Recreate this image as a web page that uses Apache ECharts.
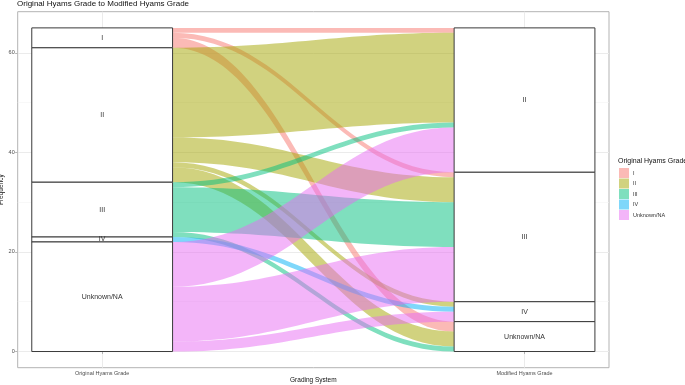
<!DOCTYPE html>
<html>
<head>
<meta charset="utf-8">
<script src="https://cdn.jsdelivr.net/npm/echarts@6/dist/echarts.min.js"></script>
<style>
  html, body { margin: 0; padding: 0; background: #fff; }
  #main { width: 685px; height: 385px; }
</style>
</head>
<body>
<div id="main"></div>
<script>
var axisNames = ['Original Hyams Grade', 'Modified Hyams Grade'];
var origGrades = ['I', 'II', 'III', 'IV', 'Unknown/NA'];
var modGrades = ['II', 'III', 'IV', 'Unknown/NA'];
var gradeColors = ['#F8766D', '#A3A500', '#00BF7D', '#00B0F6', '#E76BF3'];
// one entry per flow: original grade -> modified grade, number of cases
var flowFrom = ['I', 'I', 'I', 'II', 'II', 'II', 'II', 'III', 'III', 'III', 'IV', 'Unknown/NA', 'Unknown/NA', 'Unknown/NA'];
var flowTo = ['II', 'III', 'Unknown/NA', 'II', 'III', 'IV', 'Unknown/NA', 'II', 'III', 'Unknown/NA', 'IV', 'II', 'III', 'IV'];
var flowCount = [1, 1, 2, 18, 5, 1, 3, 1, 9, 1, 1, 9, 11, 2];
var yTicks = [0, 20, 40, 60];
var yMinorTicks = [10, 30, 50];

var halfW = 1 / 6; // strata are 1/3 of axis spacing wide
var total = flowCount.reduce(function (a, b) { return a + b; }, 0);

// stack strata from the top, first level on top (like ggalluvial)
function buildStrata(levels, key, axisX) {
  var out = [];
  var top = total;
  levels.forEach(function (lv) {
    var n = 0;
    flowCount.forEach(function (c, i) { if (key[i] === lv) n += c; });
    if (n > 0) {
      out.push({ value: [axisX, top - n, top], name: lv });
      top -= n;
    }
  });
  return out;
}
var leftStrata = buildStrata(origGrades, flowFrom, 1);
var rightStrata = buildStrata(modGrades, flowTo, 2);

// lode positions of each flow at both axes
var lodeL = [], lodeR = [];
(function () {
  var top = total;
  origGrades.forEach(function (g) {
    var idx = [];
    flowFrom.forEach(function (f, i) { if (f === g) idx.push(i); });
    idx.sort(function (a, b) { return modGrades.indexOf(flowTo[a]) - modGrades.indexOf(flowTo[b]); });
    idx.forEach(function (i) { lodeL[i] = [top, top - flowCount[i]]; top -= flowCount[i]; });
  });
  top = total;
  modGrades.forEach(function (g) {
    var idx = [];
    flowTo.forEach(function (f, i) { if (f === g) idx.push(i); });
    idx.sort(function (a, b) { return origGrades.indexOf(flowFrom[a]) - origGrades.indexOf(flowFrom[b]); });
    idx.forEach(function (i) { lodeR[i] = [top, top - flowCount[i]]; top -= flowCount[i]; });
  });
})();

function renderFlow(params, api) {
  var a = api.coord([1 + halfW, api.value(0)]);
  var b = api.coord([1 + halfW, api.value(1)]);
  var c = api.coord([2 - halfW, api.value(2)]);
  var d = api.coord([2 - halfW, api.value(3)]);
  var k = (c[0] - a[0]) * 0.42;
  var p = 'M' + a[0] + ' ' + a[1] +
    ' C' + (a[0] + k) + ' ' + a[1] + ' ' + (c[0] - k) + ' ' + c[1] + ' ' + c[0] + ' ' + c[1] +
    ' L' + d[0] + ' ' + d[1] +
    ' C' + (d[0] - k) + ' ' + d[1] + ' ' + (b[0] + k) + ' ' + b[1] + ' ' + b[0] + ' ' + b[1] + ' Z';
  return { type: 'path', shape: { pathData: p }, style: { fill: api.visual('color') } };
}

function rgba(hex, a) {
  var n = parseInt(hex.slice(1), 16);
  return 'rgba(' + (n >> 16) + ',' + ((n >> 8) & 255) + ',' + (n & 255) + ',' + a + ')';
}

var series = origGrades.map(function (g, gi) {
  var data = [];
  flowFrom.forEach(function (f, i) {
    if (f === g) data.push([lodeL[i][0], lodeL[i][1], lodeR[i][0], lodeR[i][1]]);
  });
  return {
    name: g,
    type: 'custom',
    renderItem: renderFlow,
    itemStyle: { color: rgba(gradeColors[gi], 0.5) },
    encode: { x: -1, y: [0, 1, 2, 3] },
    data: data,
    silent: true,
    z: 2
  };
});

var allStrata = leftStrata.concat(rightStrata);
series.push({
  name: 'strata',
  type: 'custom',
  z: 5,
  silent: true,
  encode: { x: 0, y: [1, 2] },
  data: allStrata.map(function (s) { return s.value; }),
  renderItem: function (params, api) {
    var tl = api.coord([api.value(0) - halfW, api.value(2)]);
    var br = api.coord([api.value(0) + halfW, api.value(1)]);
    return {
      type: 'group',
      children: [
        { type: 'rect', shape: { x: tl[0], y: tl[1], width: br[0] - tl[0], height: br[1] - tl[1] },
          style: { fill: '#fff', stroke: '#3a3a3a', lineWidth: 1 } },
        { type: 'text', style: { text: allStrata[params.dataIndex].name, x: (tl[0] + br[0]) / 2, y: (tl[1] + br[1]) / 2,
          align: 'center', verticalAlign: 'middle', fill: '#333', fontSize: 7, fontFamily: 'Liberation Sans' } }
      ]
    };
  }
});

var myChart = echarts.init(document.getElementById('main'));
var option = {
  animation: false,
  textStyle: { fontFamily: 'Liberation Sans' },
  title: [{
    text: 'Original Hyams Grade to Modified Hyams Grade',
    left: 17, top: 0, padding: 0,
    textStyle: { fontSize: 8, fontWeight: 'normal', color: '#111' }
  }, {
    text: 'Original Hyams Grade',
    left: 618, top: 158, padding: 0,
    textStyle: { fontSize: 7, fontWeight: 'normal', color: '#111' }
  }],
  legend: {
    data: origGrades,
    orient: 'vertical',
    left: 619, top: 168,
    padding: 0,
    icon: 'rect',
    itemWidth: 10, itemHeight: 10, itemGap: 0.5,
    selectedMode: false,
    textStyle: { fontSize: 5.5, color: '#333', padding: [0, 0, 0, -1] }
  },
  grid: { left: 17.7, right: 76, top: 11.7, bottom: 17.3, show: true, borderColor: '#b3b3b3', borderWidth: 1,
    containLabel: false, outerBoundsMode: 'none' },
  xAxis: {
    type: 'value', min: 0.8, max: 2.2,
    name: 'Grading System', nameLocation: 'middle', nameGap: 9, nameMoveOverlap: false,
    nameTextStyle: { fontSize: 6.5, color: '#111', verticalAlign: 'top' },
    axisLine: { show: false },
    axisTick: { customValues: [1, 2], length: 2.5, lineStyle: { color: '#b3b3b3' } },
    axisLabel: { customValues: [1, 2], margin: 3, fontSize: 5.5, color: '#4d4d4d',
      formatter: function (v) { return axisNames[Math.round(v) - 1]; } },
    splitLine: { show: true, lineStyle: { color: '#ebebeb', width: 1 } }
  },
  yAxis: [{
    type: 'value', min: -3.25, max: 68.25,
    name: 'Frequency', nameLocation: 'middle', nameGap: 12.5, nameRotate: 90, nameMoveOverlap: false,
    nameTextStyle: { fontSize: 6.5, color: '#111' },
    axisLine: { show: false },
    axisTick: { customValues: yTicks, length: 2.5, lineStyle: { color: '#b3b3b3' } },
    axisLabel: { customValues: yTicks, margin: 3, fontSize: 5.5, color: '#4d4d4d' },
    splitLine: { show: true, lineStyle: { color: '#ebebeb', width: 1 } }
  }, {
    type: 'value', min: -3.25, max: 68.25, position: 'left',
    axisLine: { show: false },
    axisTick: { show: false, customValues: yMinorTicks },
    axisLabel: { show: false, customValues: yMinorTicks },
    splitLine: { show: true, lineStyle: { color: '#f4f4f4', width: 0.6 } }
  }],
  series: series
};
myChart.setOption(option);
</script>
</body>
</html>
